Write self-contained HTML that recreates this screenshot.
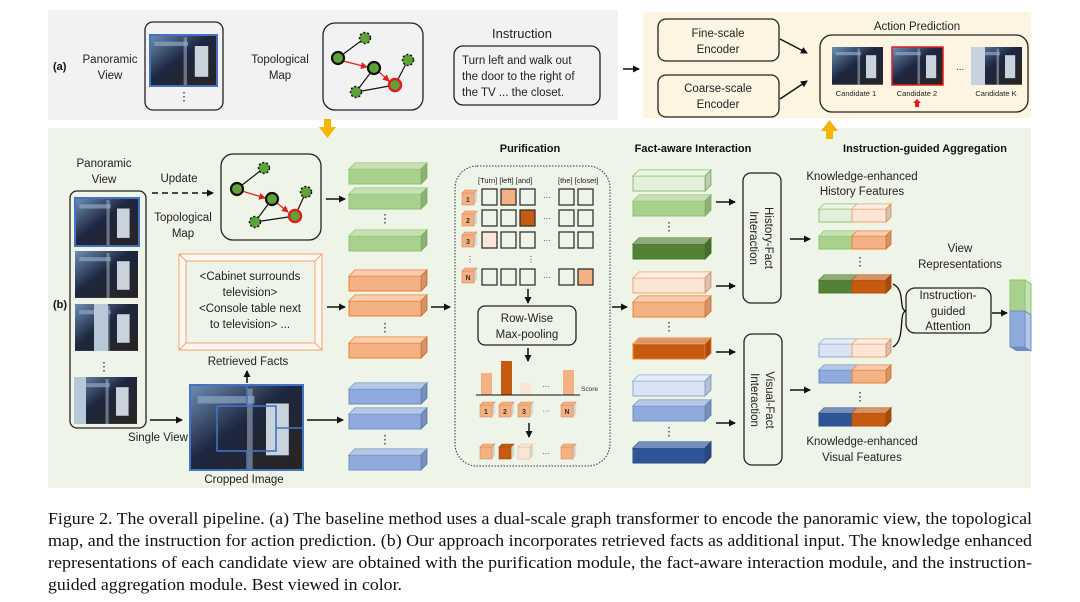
<!DOCTYPE html>
<html><head><meta charset="utf-8"><style>
html,body{margin:0;padding:0;background:#fff;}
svg{display:block;}
text{font-family:"Liberation Sans",sans-serif;}
.s{font-size:11.5px;fill:#222;}
.b{font-size:11px;font-weight:bold;fill:#111;}
.cap{font-family:"Liberation Serif",serif;font-size:17px;fill:#111;}
</style></head><body>
<svg width="1080" height="602" viewBox="0 0 1080 602" xmlns="http://www.w3.org/2000/svg">
<defs>
<marker id="ah" markerWidth="8" markerHeight="8" refX="6" refY="4" orient="auto" markerUnits="userSpaceOnUse"><path d="M0,0.5 L7,4 L0,7.5z" fill="#111"/></marker>
<marker id="ahr" markerWidth="8" markerHeight="8" refX="6" refY="4" orient="auto" markerUnits="userSpaceOnUse"><path d="M0,0.5 L7,4 L0,7.5z" fill="#e02020"/></marker>
<linearGradient id="img" x1="0" y1="0" x2="1" y2="1"><stop offset="0" stop-color="#6f8fb5"/><stop offset="0.45" stop-color="#1d2740"/><stop offset="1" stop-color="#2a2420"/></linearGradient>
<g id="bar"><rect x="0" y="6" width="72" height="15"/><polygon points="0,6 6,0 78,0 72,6"/><polygon points="0,6 6,0 78,0 72,6" fill="#fff" opacity=".35" stroke="none"/><polygon points="72,6 78,0 78,15 72,21"/><polygon points="72,6 78,0 78,15 72,21" fill="#000" opacity=".15" stroke="none"/></g>
<g id="hl"><rect x="0" y="5" width="33" height="13"/><polygon points="0,5 5,0 38,0 33,5"/><polygon points="0,5 5,0 38,0 33,5" fill="#fff" opacity=".35" stroke="none"/></g>
<g id="hr"><rect x="0" y="5" width="34" height="13"/><polygon points="0,5 5,0 39,0 34,5"/><polygon points="0,5 5,0 39,0 34,5" fill="#fff" opacity=".35" stroke="none"/><polygon points="34,5 39,0 39,13 34,18"/><polygon points="34,5 39,0 39,13 34,18" fill="#000" opacity=".15" stroke="none"/></g>
<g id="cube"><rect x="0" y="3" width="12" height="12"/><polygon points="0,3 3,0 15,0 12,3"/><polygon points="12,3 15,0 15,12 12,15" fill="#000" opacity=".12"/></g>
<g id="pic"><rect x="0" y="0" width="60" height="46" fill="url(#img)"/><rect x="40" y="10" width="12" height="28" fill="#c9d3dc"/><rect x="4" y="6" width="30" height="4" fill="#8fa6c4" opacity=".7"/><rect x="30" y="2" width="3" height="44" fill="#9aa9bb" opacity=".6"/></g>
</defs>

<rect x="48" y="10" width="570" height="110" fill="#f2f2f2"/>
<rect x="643" y="12" width="388" height="106" fill="#fdf5e2"/>
<rect x="48" y="128" width="983" height="360" fill="#eef5e8"/>

<text x="53" y="70" class="b" font-size="12">(a)</text>
<text x="110" y="63" class="s" text-anchor="middle">Panoramic</text>
<text x="110" y="79" class="s" text-anchor="middle">View</text>
<rect x="145" y="22" width="78" height="88" rx="8" fill="#f2f2f2" stroke="#222" stroke-width="1.3"/>
<g transform="translate(150,35) scale(1.12,1.1)"><use href="#pic"/></g>
<rect x="150" y="35" width="67" height="51" fill="none" stroke="#4472c4" stroke-width="2"/>
<text x="184" y="100" class="s" text-anchor="middle">⋮</text>
<text x="280" y="63" class="s" text-anchor="middle">Topological</text>
<text x="280" y="79" class="s" text-anchor="middle">Map</text>
<rect x="323" y="23" width="100" height="87" rx="12" fill="#f2f2f2" stroke="#222" stroke-width="1.3"/>
<g stroke="#111" stroke-width="1.2">
<line x1="338" y1="58" x2="365" y2="38"/><line x1="374" y1="68" x2="356" y2="92"/><line x1="356" y1="92" x2="395" y2="85"/><line x1="395" y1="85" x2="408" y2="60"/>
</g>
<g stroke="#e02020" stroke-width="1.2"><line x1="343" y1="61" x2="367" y2="67" marker-end="url(#ahr)"/><line x1="379" y1="72" x2="389" y2="81" marker-end="url(#ahr)"/></g>
<circle cx="338" cy="58" r="6" fill="#5ea33a" stroke="#111" stroke-width="2.2"/>
<circle cx="374" cy="68" r="6" fill="#5ea33a" stroke="#111" stroke-width="2.2"/>
<circle cx="395" cy="85" r="6" fill="#5ea33a" stroke="#e02020" stroke-width="2.5"/>
<g fill="#5ea33a" stroke="#111" stroke-width="1.5" stroke-dasharray="2 2"><circle cx="365" cy="38" r="5.5"/><circle cx="408" cy="60" r="5.5"/><circle cx="356" cy="92" r="5.5"/></g>
<text x="522" y="38" font-size="13" text-anchor="middle" fill="#222">Instruction</text>
<rect x="454" y="46" width="146" height="59" rx="9" fill="#f2f2f2" stroke="#222" stroke-width="1.3"/>
<text x="462" y="64" class="s">Turn left and walk out</text>
<text x="462" y="80" class="s">the door to the right of</text>
<text x="462" y="96" class="s">the TV ... the closet.</text>
<line x1="623" y1="69" x2="639" y2="69" stroke="#111" stroke-width="1.5" marker-end="url(#ah)"/>

<rect x="658" y="19" width="121" height="42" rx="8" fill="#fdf5e2" stroke="#222" stroke-width="1.3"/>
<text x="718" y="37" class="s" text-anchor="middle">Fine-scale</text>
<text x="718" y="53" class="s" text-anchor="middle">Encoder</text>
<rect x="658" y="75" width="121" height="42" rx="8" fill="#fdf5e2" stroke="#222" stroke-width="1.3"/>
<text x="718" y="92" class="s" text-anchor="middle">Coarse-scale</text>
<text x="718" y="108" class="s" text-anchor="middle">Encoder</text>
<line x1="780" y1="39" x2="807" y2="53" stroke="#111" stroke-width="1.5" marker-end="url(#ah)"/>
<line x1="780" y1="99" x2="807" y2="81" stroke="#111" stroke-width="1.5" marker-end="url(#ah)"/>
<text x="917" y="30" class="s" text-anchor="middle">Action Prediction</text>
<rect x="820" y="35" width="208" height="77" rx="12" fill="#fdf5e2" stroke="#222" stroke-width="1.3"/>
<g transform="translate(832,47) scale(0.85,0.82)"><use href="#pic"/></g>
<g transform="translate(892,47) scale(0.85,0.82)"><use href="#pic"/></g>
<rect x="892" y="47" width="51" height="38" fill="none" stroke="#e02020" stroke-width="1.5"/>
<g transform="translate(971,47) scale(0.85,0.82)"><use href="#pic"/></g>
<rect x="971" y="47" width="14" height="38" fill="#c6d3de"/>
<text x="956" y="70" font-size="10" fill="#222">...</text>
<text x="856" y="96" font-size="7.5" fill="#222" text-anchor="middle">Candidate 1</text>
<text x="917" y="96" font-size="7.5" fill="#222" text-anchor="middle">Candidate 2</text>
<text x="996" y="96" font-size="7.5" fill="#222" text-anchor="middle">Candidate K</text>
<polygon points="917,99 921,103 919,103 919,107 915,107 915,103 913,103" fill="#e02020"/>

<polygon points="324,119 331,119 331,127 336,127 327.5,138 319,127 324,127" fill="#f5b400"/>
<polygon points="826,139 833,139 833,131 838,131 829.5,120 821,131 826,131" fill="#f5b400"/>

<text x="53" y="308" class="b" font-size="12">(b)</text>
<text x="104" y="167" class="s" text-anchor="middle">Panoramic</text>
<text x="104" y="183" class="s" text-anchor="middle">View</text>
<rect x="70" y="191" width="76" height="237" rx="7" fill="#eef5e8" stroke="#222" stroke-width="1.3"/>
<g transform="translate(75,198) scale(1.05,1.05)"><use href="#pic"/></g>
<rect x="75" y="198" width="64" height="48" fill="none" stroke="#4472c4" stroke-width="2"/>
<g transform="translate(75,251) scale(1.05,1.02)"><use href="#pic"/></g>
<g transform="translate(75,304) scale(1.05,1.02)"><use href="#pic"/></g>
<rect x="94" y="304" width="14" height="47" fill="#b8c8d8"/>
<text x="104" y="370" class="s" text-anchor="middle">⋮</text>
<g transform="translate(74,377) scale(1.05,1.02)"><use href="#pic"/></g>
<rect x="74" y="377" width="12" height="47" fill="#b8c8d8"/>

<text x="179" y="182" class="s" text-anchor="middle">Update</text>
<line x1="152" y1="193" x2="213" y2="193" stroke="#111" stroke-width="1.5" stroke-dasharray="6 4" marker-end="url(#ah)"/>
<text x="183" y="221" class="s" text-anchor="middle">Topological</text>
<text x="183" y="237" class="s" text-anchor="middle">Map</text>
<rect x="221" y="154" width="100" height="86" rx="12" fill="#eef5e8" stroke="#222" stroke-width="1.3"/>
<g stroke="#111" stroke-width="1.2">
<line x1="237" y1="189" x2="264" y2="168"/><line x1="272" y1="199" x2="255" y2="222"/><line x1="255" y1="222" x2="295" y2="216"/><line x1="295" y1="216" x2="306" y2="192"/>
</g>
<g stroke="#e02020" stroke-width="1.2"><line x1="242" y1="191" x2="265" y2="198" marker-end="url(#ahr)"/><line x1="277" y1="203" x2="288" y2="212" marker-end="url(#ahr)"/></g>
<circle cx="237" cy="189" r="6" fill="#5ea33a" stroke="#111" stroke-width="2.2"/>
<circle cx="272" cy="199" r="6" fill="#5ea33a" stroke="#111" stroke-width="2.2"/>
<circle cx="295" cy="216" r="6" fill="#5ea33a" stroke="#e02020" stroke-width="2.5"/>
<g fill="#5ea33a" stroke="#111" stroke-width="1.5" stroke-dasharray="2 2"><circle cx="264" cy="168" r="5.5"/><circle cx="306" cy="192" r="5.5"/><circle cx="255" cy="222" r="5.5"/></g>
<line x1="326" y1="199" x2="345" y2="199" stroke="#111" stroke-width="1.5" marker-end="url(#ah)"/>

<rect x="179" y="254" width="143" height="96" fill="#fff8f2" stroke="#f4a46a" stroke-width="1"/>
<rect x="186" y="261" width="129" height="82" fill="#eef5e8" stroke="#f4a46a" stroke-width="1"/>
<g stroke="#f4a46a"><line x1="179" y1="254" x2="186" y2="261"/><line x1="322" y1="254" x2="315" y2="261"/><line x1="179" y1="350" x2="186" y2="343"/><line x1="322" y1="350" x2="315" y2="343"/></g>
<text x="250" y="280" class="s" text-anchor="middle">&lt;Cabinet surrounds</text>
<text x="250" y="296" class="s" text-anchor="middle">television&gt;</text>
<text x="250" y="312" class="s" text-anchor="middle">&lt;Console table next</text>
<text x="250" y="328" class="s" text-anchor="middle">to television&gt; ...</text>
<line x1="327" y1="307" x2="345" y2="307" stroke="#111" stroke-width="1.5" marker-end="url(#ah)"/>
<text x="248" y="365" class="s" text-anchor="middle">Retrieved Facts</text>
<line x1="247" y1="383" x2="247" y2="371" stroke="#111" stroke-width="1.5" marker-end="url(#ah)"/>
<g transform="translate(190,385) scale(1.9,1.85)"><use href="#pic"/></g>
<rect x="190" y="385" width="113" height="85" fill="none" stroke="#4472c4" stroke-width="2"/>
<g fill="none" stroke="#4472c4" stroke-width="1.6"><rect x="217" y="406" width="59" height="45"/><line x1="247" y1="385" x2="247" y2="406"/><line x1="247" y1="451" x2="247" y2="470"/><line x1="276" y1="428" x2="303" y2="428"/></g>
<text x="244" y="483" class="s" text-anchor="middle">Cropped Image</text>
<text x="158" y="441" class="s" text-anchor="middle">Single View</text>
<line x1="150" y1="420" x2="182" y2="420" stroke="#111" stroke-width="1.5" marker-end="url(#ah)"/>
<line x1="307" y1="420" x2="343" y2="420" stroke="#111" stroke-width="1.5" marker-end="url(#ah)"/>

<g stroke-width="1">
<use href="#bar" x="349" y="163" fill="#a9d18e" stroke="#8dc26e"/>
<use href="#bar" x="349" y="188" fill="#a9d18e" stroke="#8dc26e"/>
<use href="#bar" x="349" y="230" fill="#a9d18e" stroke="#8dc26e"/>
<use href="#bar" x="349" y="270" fill="#f4b183" stroke="#ed7d31"/>
<use href="#bar" x="349" y="295" fill="#f4b183" stroke="#ed7d31"/>
<use href="#bar" x="349" y="337" fill="#f4b183" stroke="#ed7d31"/>
<use href="#bar" x="349" y="383" fill="#8faadc" stroke="#6c8ebf"/>
<use href="#bar" x="349" y="408" fill="#8faadc" stroke="#6c8ebf"/>
<use href="#bar" x="349" y="449" fill="#8faadc" stroke="#6c8ebf"/>
</g>
<g class="s" text-anchor="middle" font-size="10"><text x="385" y="222">⋮</text><text x="385" y="331">⋮</text><text x="385" y="443">⋮</text></g>
<line x1="431" y1="307" x2="450" y2="307" stroke="#111" stroke-width="1.5" marker-end="url(#ah)"/>

<text x="530" y="152" class="b" text-anchor="middle">Purification</text>
<rect x="455" y="166" width="155" height="300" rx="22" fill="none" stroke="#333" stroke-width="1" stroke-dasharray="1.5 1.5"/>
<text x="478" y="183" font-size="7.5" fill="#222">[Turn] [left] [and]</text>
<text x="558" y="183" font-size="7.5" fill="#222">[the] [closet]</text>
<g fill="#f4b183" stroke="#d98a5a" stroke-width=".6">
<use href="#cube" x="462" y="190"/><use href="#cube" x="462" y="211"/><use href="#cube" x="462" y="232"/><use href="#cube" x="462" y="268"/>
</g>
<g font-size="7" font-weight="bold" fill="#333" text-anchor="middle"><text x="468" y="202">1</text><text x="468" y="223">2</text><text x="468" y="244">3</text><text x="468" y="280">N</text></g>
<g fill="none" stroke="#333" stroke-width="1.3">
<rect x="482" y="189" width="15" height="16"/><rect x="501" y="189" width="15" height="16" fill="#f4b183"/><rect x="520" y="189" width="15" height="16"/><rect x="559" y="189" width="15" height="16"/><rect x="578" y="189" width="15" height="16"/>
<rect x="482" y="210" width="15" height="16"/><rect x="501" y="210" width="15" height="16"/><rect x="520" y="210" width="15" height="16" fill="#c55a11"/><rect x="559" y="210" width="15" height="16"/><rect x="578" y="210" width="15" height="16"/>
<rect x="482" y="232" width="15" height="16" fill="#fbe5d6"/><rect x="501" y="232" width="15" height="16"/><rect x="520" y="232" width="15" height="16"/><rect x="559" y="232" width="15" height="16"/><rect x="578" y="232" width="15" height="16"/>
<rect x="482" y="269" width="15" height="16"/><rect x="501" y="269" width="15" height="16"/><rect x="520" y="269" width="15" height="16"/><rect x="559" y="269" width="15" height="16"/><rect x="578" y="269" width="15" height="16" fill="#f4b183"/>
</g>
<g font-size="8" fill="#333" text-anchor="middle"><text x="547" y="200">···</text><text x="547" y="221">···</text><text x="547" y="243">···</text><text x="547" y="280">···</text><text x="470" y="262">⋮</text><text x="531" y="262">⋮</text></g>
<line x1="528" y1="289" x2="528" y2="303" stroke="#111" stroke-width="1.5" marker-end="url(#ah)"/>
<rect x="478" y="306" width="98" height="39" rx="7" fill="#eef5e8" stroke="#222" stroke-width="1.3"/>
<text x="527" y="322" class="s" text-anchor="middle">Row-Wise</text>
<text x="527" y="338" class="s" text-anchor="middle">Max-pooling</text>
<line x1="528" y1="348" x2="528" y2="361" stroke="#111" stroke-width="1.5" marker-end="url(#ah)"/>
<rect x="481" y="373" width="11" height="22" fill="#f4b183"/><rect x="501" y="361" width="11" height="34" fill="#c55a11"/><rect x="520" y="383" width="11" height="12" fill="#fbe5d6"/><rect x="563" y="370" width="11" height="25" fill="#f4b183"/>
<line x1="476" y1="395" x2="580" y2="395" stroke="#111" stroke-width="1"/>
<text x="546" y="389" font-size="8" fill="#333" text-anchor="middle">···</text>
<text x="581" y="391" font-size="6.5" fill="#333">Score</text>
<g fill="#f4b183" stroke="#d98a5a" stroke-width=".6"><use href="#cube" x="480" y="402"/><use href="#cube" x="499" y="402"/><use href="#cube" x="518" y="402"/><use href="#cube" x="561" y="402"/></g>
<g font-size="7" font-weight="bold" fill="#333" text-anchor="middle"><text x="486" y="414">1</text><text x="505" y="414">2</text><text x="524" y="414">3</text><text x="567" y="414">N</text><text x="546" y="413" font-weight="normal">···</text></g>
<line x1="529" y1="423" x2="529" y2="437" stroke="#111" stroke-width="1.5" marker-end="url(#ah)"/>
<use href="#cube" x="480" y="444" fill="#f4b183" stroke="#d98a5a" stroke-width=".6"/>
<use href="#cube" x="499" y="444" fill="#c55a11" stroke="#a04a0e" stroke-width=".6"/>
<use href="#cube" x="518" y="444" fill="#fbe5d6" stroke="#e8b896" stroke-width=".6"/>
<use href="#cube" x="561" y="444" fill="#f4b183" stroke="#d98a5a" stroke-width=".6"/>
<text x="546" y="456" font-size="8" fill="#333" text-anchor="middle">···</text>
<line x1="612" y1="307" x2="627" y2="307" stroke="#111" stroke-width="1.5" marker-end="url(#ah)"/>

<text x="693" y="152" class="b" text-anchor="middle">Fact-aware Interaction</text>
<g stroke-width="1">
<use href="#bar" x="633" y="170" fill="#e2efd9" stroke="#8dc26e"/>
<use href="#bar" x="633" y="195" fill="#a9d18e" stroke="#8dc26e"/>
<use href="#bar" x="633" y="238" fill="#548235" stroke="#4a7a2e"/>
<use href="#bar" x="633" y="272" fill="#fbe5d6" stroke="#f4a46a"/>
<use href="#bar" x="633" y="296" fill="#f4b183" stroke="#ed7d31"/>
<use href="#bar" x="633" y="338" fill="#c55a11" stroke="#ed7d31"/>
<use href="#bar" x="633" y="375" fill="#dae3f3" stroke="#8faadc"/>
<use href="#bar" x="633" y="400" fill="#8faadc" stroke="#6c8ebf"/>
<use href="#bar" x="633" y="442" fill="#2f5597" stroke="#2a4d88"/>
</g>
<g class="s" text-anchor="middle" font-size="10"><text x="669" y="230">⋮</text><text x="669" y="330">⋮</text><text x="669" y="435">⋮</text></g>
<g stroke="#111" stroke-width="1.5" marker-end="url(#ah)"><line x1="716" y1="202" x2="735" y2="202"/><line x1="716" y1="286" x2="735" y2="286"/><line x1="716" y1="352" x2="735" y2="352"/><line x1="716" y1="423" x2="735" y2="423"/></g>
<rect x="743" y="173" width="38" height="130" rx="8" fill="#eef5e8" stroke="#222" stroke-width="1.3"/>
<g transform="translate(762,238) rotate(90)"><text x="0" y="-3" class="s" text-anchor="middle">History-Fact</text><text x="0" y="12" class="s" text-anchor="middle">Interaction</text></g>
<rect x="744" y="334" width="38" height="131" rx="8" fill="#eef5e8" stroke="#222" stroke-width="1.3"/>
<g transform="translate(763,400) rotate(90)"><text x="0" y="-3" class="s" text-anchor="middle">Visual-Fact</text><text x="0" y="12" class="s" text-anchor="middle">Interaction</text></g>
<g stroke="#111" stroke-width="1.5" marker-end="url(#ah)"><line x1="790" y1="239" x2="810" y2="239"/><line x1="790" y1="390" x2="810" y2="390"/></g>

<text x="925" y="152" class="b" text-anchor="middle">Instruction-guided Aggregation</text>
<text x="862" y="180" class="s" text-anchor="middle">Knowledge-enhanced</text>
<text x="862" y="195" class="s" text-anchor="middle">History Features</text>
<g stroke-width="1">
<use href="#hl" x="819" y="204" fill="#e2efd9" stroke="#8dc26e"/><use href="#hr" x="852" y="204" fill="#fbe5d6" stroke="#f4a46a"/>
<use href="#hl" x="819" y="231" fill="#a9d18e" stroke="#8dc26e"/><use href="#hr" x="852" y="231" fill="#f4b183" stroke="#ed7d31"/>
<use href="#hl" x="819" y="275" fill="#548235" stroke="#4a7a2e"/><use href="#hr" x="852" y="275" fill="#c55a11" stroke="#b0500f"/>
<use href="#hl" x="819" y="339" fill="#dae3f3" stroke="#8faadc"/><use href="#hr" x="852" y="339" fill="#fbe5d6" stroke="#f4a46a"/>
<use href="#hl" x="819" y="365" fill="#8faadc" stroke="#6c8ebf"/><use href="#hr" x="852" y="365" fill="#f4b183" stroke="#ed7d31"/>
<use href="#hl" x="819" y="408" fill="#2f5597" stroke="#2a4d88"/><use href="#hr" x="852" y="408" fill="#c55a11" stroke="#b0500f"/>
</g>
<g class="s" text-anchor="middle" font-size="10"><text x="860" y="265">⋮</text><text x="860" y="400">⋮</text></g>
<text x="862" y="445" class="s" text-anchor="middle">Knowledge-enhanced</text>
<text x="862" y="461" class="s" text-anchor="middle">Visual Features</text>
<path d="M893,284 C906,290 898,310 906,311 C898,312 906,340 893,347" fill="none" stroke="#111" stroke-width="1.3"/>
<rect x="906" y="288" width="85" height="45" rx="9" fill="#eef5e8" stroke="#222" stroke-width="1.3"/>
<text x="948" y="299" class="s" text-anchor="middle">Instruction-</text>
<text x="948" y="315" class="s" text-anchor="middle">guided</text>
<text x="948" y="330" class="s" text-anchor="middle">Attention</text>
<text x="960" y="252" class="s" text-anchor="middle">View</text>
<text x="960" y="268" class="s" text-anchor="middle">Representations</text>
<line x1="992" y1="313" x2="1007" y2="313" stroke="#111" stroke-width="1.5" marker-end="url(#ah)"/>
<rect x="1010" y="280" width="15" height="31" fill="#a9d18e" stroke="#8dc26e"/>
<rect x="1010" y="311" width="15" height="36" fill="#8faadc" stroke="#6c8ebf"/>
<polygon points="1025,280 1031,284 1031,315 1025,311" fill="#c5e0b4" stroke="#8dc26e"/>
<polygon points="1025,311 1031,315 1031,351 1025,347" fill="#b4c7e7" stroke="#6c8ebf"/>
<polygon points="1010,347 1025,347 1031,351 1016,351" fill="#6c8ebf"/>

<text x="48" y="524" class="cap" textLength="984" lengthAdjust="spacingAndGlyphs">Figure 2. The overall pipeline. (a) The baseline method uses a dual-scale graph transformer to encode the panoramic view, the topological</text>
<text x="48" y="546" class="cap" textLength="984" lengthAdjust="spacingAndGlyphs">map, and the instruction for action prediction. (b) Our approach incorporates retrieved facts as additional input. The knowledge enhanced</text>
<text x="48" y="568" class="cap" textLength="984" lengthAdjust="spacingAndGlyphs">representations of each candidate view are obtained with the purification module, the fact-aware interaction module, and the instruction-</text>
<text x="48" y="590" class="cap" textLength="354" lengthAdjust="spacingAndGlyphs">guided aggregation module. Best viewed in color.</text>
</svg>
</body></html>
